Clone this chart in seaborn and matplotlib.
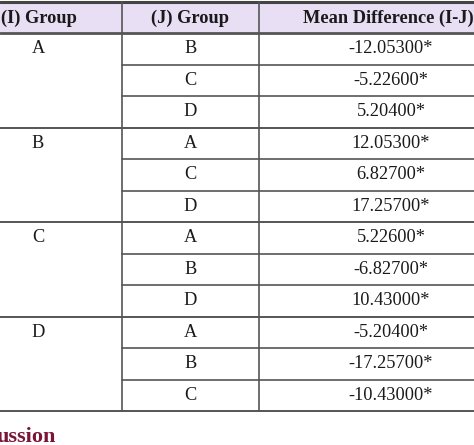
import matplotlib
matplotlib.use("Agg")
import matplotlib.pyplot as plt
import seaborn as sns

sns.set_theme(style="white")
plt.rcParams['font.family'] = ['Liberation Serif', 'DejaVu Serif']

headers = ["(I) Group", "(J) Group", "Mean Difference (I-J)"]
i_groups = ["A", "B", "C", "D"]
j_groups = [["B", "C", "D"], ["A", "C", "D"], ["A", "B", "D"], ["A", "B", "C"]]
mean_diff = [["-12.05300*", "-5.22600*", "5.20400*"],
             ["12.05300*", "6.82700*", "17.25700*"],
             ["5.22600*", "-6.82700*", "10.43000*"],
             ["-5.20400*", "-17.25700*", "-10.43000*"]]

W, H = 474, 445
fig = plt.figure(figsize=(W / 100, H / 100), dpi=100)
ax = fig.add_axes([0, 0, 1, 1])
ax.set_xlim(0, W)
ax.set_ylim(H, 0)
ax.axis("off")

col_x = [0, 122, 259, W]
top, head_bot = 2, 33
row_h = (411 - head_bot) / 12
lc = "#555555"
fs = 13.2

ax.fill_between([0, W], top, head_bot, color="#e8dff5", zorder=0)
ax.plot([0, W], [top, top], color="#444444", lw=2.2)
ax.plot([0, W], [head_bot, head_bot], color="#555555", lw=2.0)
hx = [1, (col_x[1] + col_x[2]) / 2, 474]
ha = ["left", "center", "right"]
for t, x, a in zip(headers, hx, ha):
    ax.text(x, (top + head_bot) / 2 + 1, t, ha=a, va="center", fontsize=fs, fontweight="bold", color="#1a1a1a")

r = 0
for gi, g in enumerate(i_groups):
    gy0 = head_bot + r * row_h
    ax.text(38, gy0 + row_h / 2, g, ha="center", va="center", fontsize=fs, color="#1a1a1a")
    for j, (jg, md) in enumerate(zip(j_groups[gi], mean_diff[gi])):
        y0 = head_bot + r * row_h
        yc = y0 + row_h / 2
        ax.text((col_x[1] + col_x[2]) / 2, yc, jg, ha="center", va="center", fontsize=fs, color="#1a1a1a")
        ax.text(391, yc, md, ha="center", va="center", fontsize=fs, color="#1a1a1a")
        r += 1
        y1 = head_bot + r * row_h
        if j < 2:
            ax.plot([col_x[1], W], [y1, y1], color=lc, lw=1.2)
        else:
            ax.plot([0, W], [y1, y1], color=lc, lw=1.4)

for x in col_x[1:3]:
    ax.plot([x, x], [top, 411], color=lc, lw=1.2)

ax.text(-3, 437, "ussion", ha="left", va="center", fontsize=16, fontweight="bold", color="#7a1538")

fig.savefig("out.png", dpi=100)
